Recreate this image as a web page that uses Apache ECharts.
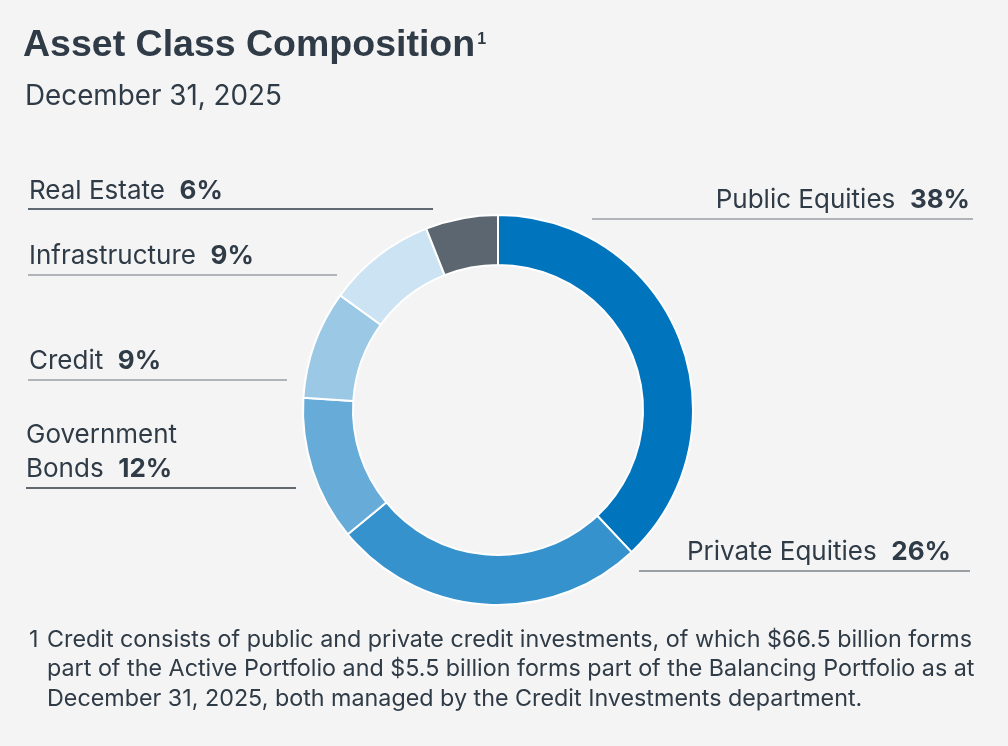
<!DOCTYPE html>
<html>
<head>
<meta charset="utf-8">
<script src="https://cdn.jsdelivr.net/npm/echarts@6/dist/echarts.min.js"></script>
<style>
  html, body { margin: 0; padding: 0; background: #f4f4f4; }
  #chart { width: 1008px; height: 746px; }
</style>
</head>
<body>
<div id="chart"></div>
<script>
// ---- data ----
var categories = ['Public Equities', 'Private Equities', 'Government Bonds', 'Credit', 'Infrastructure', 'Real Estate'];
var displayNames = [['Public Equities'], ['Private Equities'], ['Government', 'Bonds'], ['Credit'], ['Infrastructure'], ['Real Estate']];
var values = [38, 26, 12, 9, 9, 6];
var sliceColors = ['#0075be', '#3592cd', '#67acd8', '#9bc8e5', '#cbe3f2', '#5b6670'];
var titleText = 'Asset Class Composition';
var subtitleText = 'December 31, 2025';
var footnoteNum = '1';
var footnoteText = 'Credit consists of public and private credit investments, of which $66.5 billion forms\npart of the Active Portfolio and $5.5 billion forms part of the Balancing Portfolio as at\nDecember 31, 2025, both managed by the Credit Investments department.';

// ---- label layout (positions only) ----
var labelPos = [
  { x: 970, y: 200, align: 'right', lx1: 592, lx2: 973, ly: 219, lc: '#9a9ea3' },
  { x: 951, y: 552, align: 'right', lx1: 639, lx2: 970, ly: 571, lc: '#7d838a' },
  { x: 26,  y: 452, align: 'left',  lx1: 26,  lx2: 296, ly: 488, lc: '#2f3b46' },
  { x: 29,  y: 361, align: 'left',  lx1: 28,  lx2: 287, ly: 380, lc: '#9a9ea3' },
  { x: 29,  y: 256, align: 'left',  lx1: 28,  lx2: 337, ly: 275, lc: '#9a9ea3' },
  { x: 29,  y: 191, align: 'left',  lx1: 28,  lx2: 433, ly: 209, lc: '#2f3b46' }
];

var textColor = '#2f3b46';
var TFONT = '"Liberation Sans", Arial, Helvetica, sans-serif';
var FONT = 'Inter, "Liberation Sans", Arial, sans-serif';

var chart = echarts.init(document.getElementById('chart'), null, { renderer: 'canvas' });

var pieData = categories.map(function (c, i) {
  return {
    name: c,
    value: values[i],
    itemStyle: { color: sliceColors[i] },
    labelLine: { lineStyle: { color: labelPos[i].lc } }
  };
});

var option = {
  backgroundColor: '#f4f4f4',
  animation: false,
  graphic: [
    {
      type: 'text', left: 23, top: 24,
      style: {
        text: '{t|' + titleText + '}{s|1}',
        rich: {
          t: { fontFamily: TFONT, fontSize: 37.5, fontWeight: 'bold', fill: textColor, lineHeight: 44 },
          s: { fontFamily: TFONT, fontSize: 16, fontWeight: 'bold', fill: textColor, verticalAlign: 'top', lineHeight: 44, padding: [8, 0, 12, 2] }
        }
      }
    },
    {
      type: 'text', x: 25, y: 97,
      style: { text: subtitleText, font: '27.8px ' + FONT, fill: textColor, textVerticalAlign: 'middle' }
    },
    {
      type: 'text', x: 29, y: 640,
      style: { text: footnoteNum, font: '23.3px ' + FONT, fill: textColor, textVerticalAlign: 'middle' }
    },
    {
      type: 'text', x: 47, y: 625,
      style: { text: footnoteText, font: '23.3px ' + FONT, fill: textColor, lineHeight: 29.5, textVerticalAlign: 'top' }
    }
  ],
  series: [{
    type: 'pie',
    center: [498, 410],
    radius: [145, 195],
    startAngle: 90,
    clockwise: true,
    avoidLabelOverlap: false,
    itemStyle: { borderColor: '#ffffff', borderWidth: 2 },
    emphasis: { disabled: true },
    label: {
      show: true,
      position: 'outside',
      color: textColor,
      fontFamily: FONT,
      fontSize: 26,
      formatter: function (p) {
        var lines = displayNames[p.dataIndex];
        var out = [];
        for (var k = 0; k < lines.length; k++) {
          if (k === lines.length - 1) out.push('{n|' + lines[k] + '  }{v|' + p.value + '%}');
          else out.push('{n|' + lines[k] + '}');
        }
        return out.join('\n');
      },
      rich: {
        n: { fontFamily: FONT, fontSize: 26, color: textColor, lineHeight: 34 },
        v: { fontFamily: FONT, fontSize: 26, fontWeight: 'bold', color: textColor, lineHeight: 34 }
      }
    },
    labelLine: { show: true, lineStyle: { width: 1.5 } },
    labelLayout: function (params) {
      var p = labelPos[params.dataIndex];
      return {
        x: p.x,
        y: p.y,
        align: p.align,
        verticalAlign: 'middle',
        labelLinePoints: [[p.lx1, p.ly], [p.lx1, p.ly], [p.lx2, p.ly]]
      };
    },
    data: pieData
  }]
};

chart.setOption(option);
</script>
</body>
</html>
